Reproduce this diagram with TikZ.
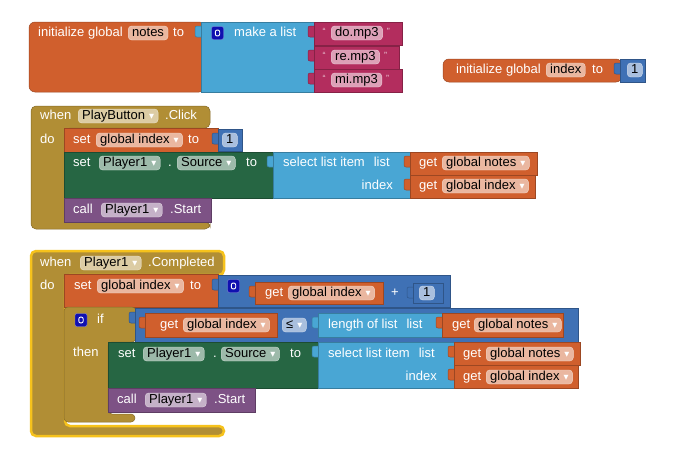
\documentclass[tikz,border=0pt]{standalone}
\usepackage{fontspec}
\setmainfont{Liberation Sans}
\newfontfamily\symfont{DejaVu Sans}
\usetikzlibrary{positioning}

\definecolor{varO}{HTML}{D05F2D}
\definecolor{lstB}{HTML}{49A6D4}
\definecolor{mthB}{HTML}{3F71B5}
\definecolor{txtP}{HTML}{B32D5E}
\definecolor{ctlG}{HTML}{B18E35}
\definecolor{setG}{HTML}{266643}
\definecolor{mthP}{HTML}{7D5285}
\definecolor{selY}{HTML}{F6C21C}
\definecolor{gearB}{HTML}{1010B0}

\tikzset{
  blk/.style={fill=#1, draw=#1!75!black, line width=0.5pt},
  lbl/.style={text=white, anchor=west, inner sep=0pt, text height=9.5pt, text depth=2.7pt},
  pill/.style={fill=#1!45!white, draw=#1!25!white, rounded corners=3.5pt, text=black,
    anchor=west, inner xsep=4pt, inner ysep=0pt, text height=9.5pt, text depth=2.7pt,
    minimum height=14pt},
  quot/.style={text=white!75!txtP, inner sep=0pt, font=\fontsize{9}{9}\selectfont},
  gear/.style={fill=gearB, draw=gearB!50!white, rounded corners=2pt, minimum width=12pt,
    minimum height=13pt, inner sep=0pt,
    path picture={\draw[white, line width=0.9pt]
      ([shift={(-2.2pt,-3pt)}]path picture bounding box.center) rectangle
      ([shift={(2.2pt,3pt)}]path picture bounding box.center);}}
}
\newcommand\dd{\hspace{4pt}\raisebox{1pt}{\symfont\fontsize{6.5}{6.5}\selectfont\textcolor{white}{▼}}}
% value block with its plug on the left
\newcommand\vblk[5]{%
  \draw[blk=#1, rounded corners=2pt] (#2-6,#3+4) rectangle (#2+2,#3+15);
  \draw[blk=#1] (#2,#3) rectangle (#4,#5);}

\begin{document}
\begin{tikzpicture}[x=1pt, y=-1pt, font=\fontsize{13}{15}\selectfont]
\fill[white] (0,0) rectangle (675,466);
\useasboundingbox (0,0) rectangle (675,466);

% initialize global notes
\draw[blk=varO, rounded corners=6pt] (29,22) rectangle (205,92);
\node[lbl] (aInit) at (38,33) {initialize global};
\node[pill=varO] (aName) at (128,33) {notes};
\node[lbl] (aTo) at (173,33) {to};
\vblk{lstB}{201}{22}{314}{92}
\node[gear] (aGear) at (217.5,33) {};
\node[lbl] (aMake) at (234,33) {make a list};
\foreach \t/\y/\r [count=\i] in {do.mp3/22/402, re.mp3/46/399, mi.mp3/69/402} {
  \vblk{txtP}{314}{\y}{\r}{\y+23}
  \node[quot] (qa\i) at (324,\y+9) {“};
  \node[pill=txtP] (str\i) at (331,\y+11) {\t};
  \node[quot, right=4pt of str\i.east, yshift=2pt] (qb\i) {”};
}

% initialize global index
\draw[blk=varO, rounded corners=6pt] (443,59) rectangle (622,82);
\node[lbl] (bInit) at (456,70) {initialize global};
\node[pill=varO] (bName) at (546,70) {index};
\node[lbl] (bTo) at (592,70) {to};
\vblk{mthB}{620}{59}{645}{82}
\node[pill=mthB] (bNum) at (627,70) {1};

% when PlayButton.Click
\draw[blk=ctlG, rounded corners=5pt] (31,106) -- (210,106) -- (210,128) -- (65,128)
  -- (65,222) -- (210,222) -- (210,229) -- (31,229) -- cycle;
\node[lbl] (cWhen) at (40,116) {when};
\node[pill=ctlG] (cComp) at (78,116) {PlayButton\dd};
\node[lbl] (cEvt) at (165,116) {.Click};
\node[lbl] (cDo) at (40,140) {do};
\draw[blk=varO] (64,128) rectangle (218,152);
\node[lbl] (cSet) at (73,140) {set};
\node[pill=varO] (cVar) at (96,140) {global index\dd};
\node[lbl] (cTo) at (188,140) {to};
\vblk{mthB}{218}{129}{242}{151}
\node[pill=mthB] (cNum) at (222,140) {1};
\draw[blk=setG] (64,152) rectangle (273,198);
\node[lbl] (cSet2) at (73,163) {set};
\node[pill=setG] (cObj) at (99,163) {Player1\dd};
\node[lbl] (cDot) at (168,163) {.};
\node[pill=setG] (cProp) at (177,163) {Source\dd};
\node[lbl] (cTo2) at (246,163) {to};
\vblk{lstB}{273}{152}{410}{198}
\node[lbl] (cSel) at (283,163) {select list item\hspace{9pt}list};
\node[lbl, anchor=east] (cIdx) at (393,186) {index};
\vblk{varO}{410}{152}{537}{175}
\node[lbl] (cGet1) at (419,163) {get};
\node[pill=varO] (cNotes) at (442,163) {global notes\dd};
\vblk{varO}{410}{175}{535}{198}
\node[lbl] (cGet2) at (419,186) {get};
\node[pill=varO] (cIndex) at (442,186) {global index\dd};
\draw[blk=mthP] (64,198) rectangle (211,222);
\node[lbl] (cCall) at (73,210) {call};
\node[pill=mthP] (cPlay) at (101,210) {Player1\dd};
\node[lbl] (cStart) at (170,210) {.Start};

% when Player1.Completed (selected)
\draw[fill=ctlG, draw=selY, line width=2.5pt, rounded corners=5pt] (31,251) -- (224,251)
  -- (224,275) -- (65,275) -- (65,426) -- (224,426) -- (224,436) -- (31,436) -- cycle;
\node[lbl] (dWhen) at (40,263) {when};
\node[pill=ctlG] (dComp) at (80,263) {Player1\dd};
\node[lbl] (dEvt) at (148,263) {.Completed};
\node[lbl] (dDo) at (40,286) {do};
\draw[blk=varO] (64,274) rectangle (218,307);
\node[lbl] (dSet) at (74,286) {set};
\node[pill=varO] (dVar) at (97,286) {global index\dd};
\node[lbl] (dTo) at (190,286) {to};
\vblk{mthB}{218}{275}{450}{307}
\node[gear] (dGear) at (233.5,286) {};
\vblk{varO}{255}{282}{383}{304}
\node[lbl] (dGet) at (265,293) {get};
\node[pill=varO] (dIdx) at (288,293) {global index\dd};
\node[lbl] (dPlus) at (391,293) {+};
\vblk{mthB}{413}{283}{443}{303}
\node[pill=mthB] (dNum) at (419,293) {1};
% if ... then
\draw[blk=ctlG, rounded corners=4pt] (64,307) -- (136,307) -- (136,342) -- (108,342)
  -- (108,414) -- (135,414) -- (135,422) -- (64,422) -- cycle;
\node[gear] (dIfGear) at (81,320) {};
\node[lbl] (dIf) at (97,320) {if};
\node[lbl] (dThen) at (73,353) {then};
\vblk{mthB}{135}{308}{578}{342}
\vblk{varO}{145}{313}{277}{337}
\node[lbl] (dGet2) at (160,325) {get};
\node[pill=varO] (dIdx2) at (183,325) {global index\dd};
\node[pill=mthB] (dOp) at (282,325) {≤\dd};
\vblk{lstB}{318}{313}{442}{337}
\node[lbl] (dLen) at (328,325) {length of list\hspace{9pt}list};
\vblk{varO}{442}{313}{563}{337}
\node[lbl] (dGet3) at (452,325) {get};
\node[pill=varO] (dNotes) at (474,325) {global notes\dd};
\draw[blk=setG] (108,342) rectangle (318,388);
\node[lbl] (dSet2) at (118,354) {set};
\node[pill=setG] (dObj) at (143,354) {Player1\dd};
\node[lbl] (dDot) at (213,354) {.};
\node[pill=setG] (dProp) at (221,354) {Source\dd};
\node[lbl] (dTo2) at (290,354) {to};
\vblk{lstB}{318}{342}{454}{388}
\node[lbl] (dSel) at (328,354) {select list item\hspace{9pt}list};
\node[lbl, anchor=east] (dIdxL) at (437,377) {index};
\vblk{varO}{454}{342}{580}{365}
\node[lbl] (dGet4) at (463,354) {get};
\node[pill=varO] (dNotes2) at (486,354) {global notes\dd};
\vblk{varO}{454}{365}{578}{388}
\node[lbl] (dGet5) at (463,377) {get};
\node[pill=varO] (dIdx3) at (486,377) {global index\dd};
\draw[blk=mthP] (108,388) rectangle (255,412);
\node[lbl] (dCall) at (117,400) {call};
\node[pill=mthP] (dPlay) at (145,400) {Player1\dd};
\node[lbl] (dStart) at (214,400) {.Start};
\end{tikzpicture}
\end{document}
